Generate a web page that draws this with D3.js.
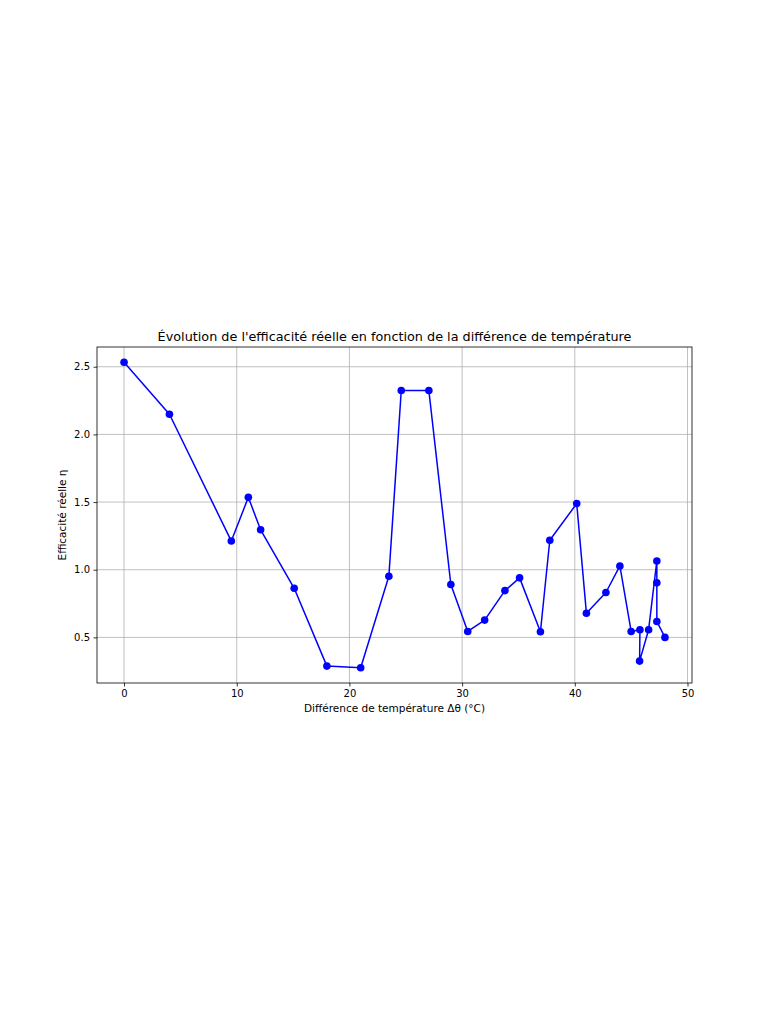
<!DOCTYPE html>
<html><head><meta charset="utf-8">
<script src="https://cdn.jsdelivr.net/npm/d3@7"></script>
<style>body{margin:0;background:#fff}svg{display:block}text{font-family:"DejaVu Sans",sans-serif}</style>
</head><body><svg id="c" width="768" height="1024"></svg>
<script>
const deltaTheta = [0, 4.03, 9.52, 11.03, 12.12, 15.1, 18.0, 21.0, 23.5, 24.6, 27.05, 29.0, 30.5, 32.0, 33.8, 35.1, 36.95, 37.78, 40.17, 41.03, 42.76, 44.0, 45.0, 45.78, 45.75, 46.55, 47.28, 47.28, 47.28, 48.0];
const efficacite = [2.533, 2.149, 1.212, 1.535, 1.295, 0.863, 0.288, 0.276, 0.952, 2.324, 2.324, 0.891, 0.544, 0.628, 0.846, 0.94, 0.542, 1.218, 1.489, 0.679, 0.832, 1.028, 0.544, 0.557, 0.325, 0.557, 1.065, 0.903, 0.618, 0.5];
const xTicks = [0, 10, 20, 30, 40, 50];
const yTicks = [0.5, 1.0, 1.5, 2.0, 2.5];
const titleText = "Évolution de l'efficacité réelle en fonction de la différence de température";
const xLabel = "Différence de température Δθ (°C)";
const yLabel = "Efficacité réelle η";

const data = deltaTheta.map((d, i) => ({x: d, y: efficacite[i]}));
const L = 97, R = 692, T = 347, B = 683;
const svg = d3.select("#c");
const xMin = d3.min(deltaTheta), xMax = d3.max(deltaTheta);
const yMin = d3.min(efficacite), yMax = d3.max(efficacite);
const xm = (xMax - xMin) * 0.05, ym = (yMax - yMin) * 0.05;
const x = d3.scaleLinear().domain([xMin - xm, xMax + xm]).range([L, R]);
const y = d3.scaleLinear().domain([yMin - ym, yMax + ym]).range([B, T]);

// grid
const g = svg.append("g");
g.selectAll(".vx").data(xTicks.filter(t => x(t) >= L && x(t) <= R)).join("line")
  .attr("x1", d => x(d)).attr("x2", d => x(d)).attr("y1", T).attr("y2", B)
  .attr("stroke", "#b0b0b0").attr("stroke-width", 0.8);
g.selectAll(".hy").data(yTicks).join("line")
  .attr("x1", L).attr("x2", R).attr("y1", d => y(d)).attr("y2", d => y(d))
  .attr("stroke", "#b0b0b0").attr("stroke-width", 0.8);

// axes
const xAxis = d3.axisBottom(x).tickValues(xTicks).tickFormat(d3.format("d")).tickSize(3.5).tickPadding(3.5);
const yAxis = d3.axisLeft(y).tickValues(yTicks).tickFormat(d3.format(".1f")).tickSize(3.5).tickPadding(3.5);
const gx = svg.append("g").attr("transform", `translate(0,${B})`).call(xAxis);
const gy = svg.append("g").attr("transform", `translate(${L},0)`).call(yAxis);
[gx, gy].forEach(a => {
  a.select(".domain").remove();
  a.selectAll("line").attr("stroke", "#000").attr("stroke-width", 0.8);
  a.selectAll("text").attr("font-size", 10).attr("fill", "#000").attr("font-family", "DejaVu Sans");
});
svg.append("rect").attr("x", L).attr("y", T).attr("width", R - L).attr("height", B - T)
  .attr("fill", "none").attr("stroke", "#000").attr("stroke-width", 0.8);

// line
const line = d3.line().x(d => x(d.x)).y(d => y(d.y));
svg.append("path").datum(data).attr("d", line).attr("fill", "none")
  .attr("stroke", "#0000ff").attr("stroke-width", 1.5).attr("stroke-linejoin", "round");
svg.selectAll(".pt").data(data).join("circle")
  .attr("cx", d => x(d.x)).attr("cy", d => y(d.y)).attr("r", 3.8).attr("fill", "#0000ff");

// texts
svg.append("text").attr("x", (L + R) / 2).attr("y", 341).attr("text-anchor", "middle")
  .attr("font-size", 12.8).attr("fill", "#000").text(titleText);
svg.append("text").attr("x", (L + R) / 2).attr("y", 712).attr("text-anchor", "middle")
  .attr("font-size", 10.5).attr("fill", "#000").text(xLabel);
svg.append("text").attr("transform", `translate(66,${(T + B) / 2}) rotate(-90)`).attr("text-anchor", "middle")
  .attr("font-size", 10.5).attr("fill", "#000").text(yLabel);
</script></body></html>
